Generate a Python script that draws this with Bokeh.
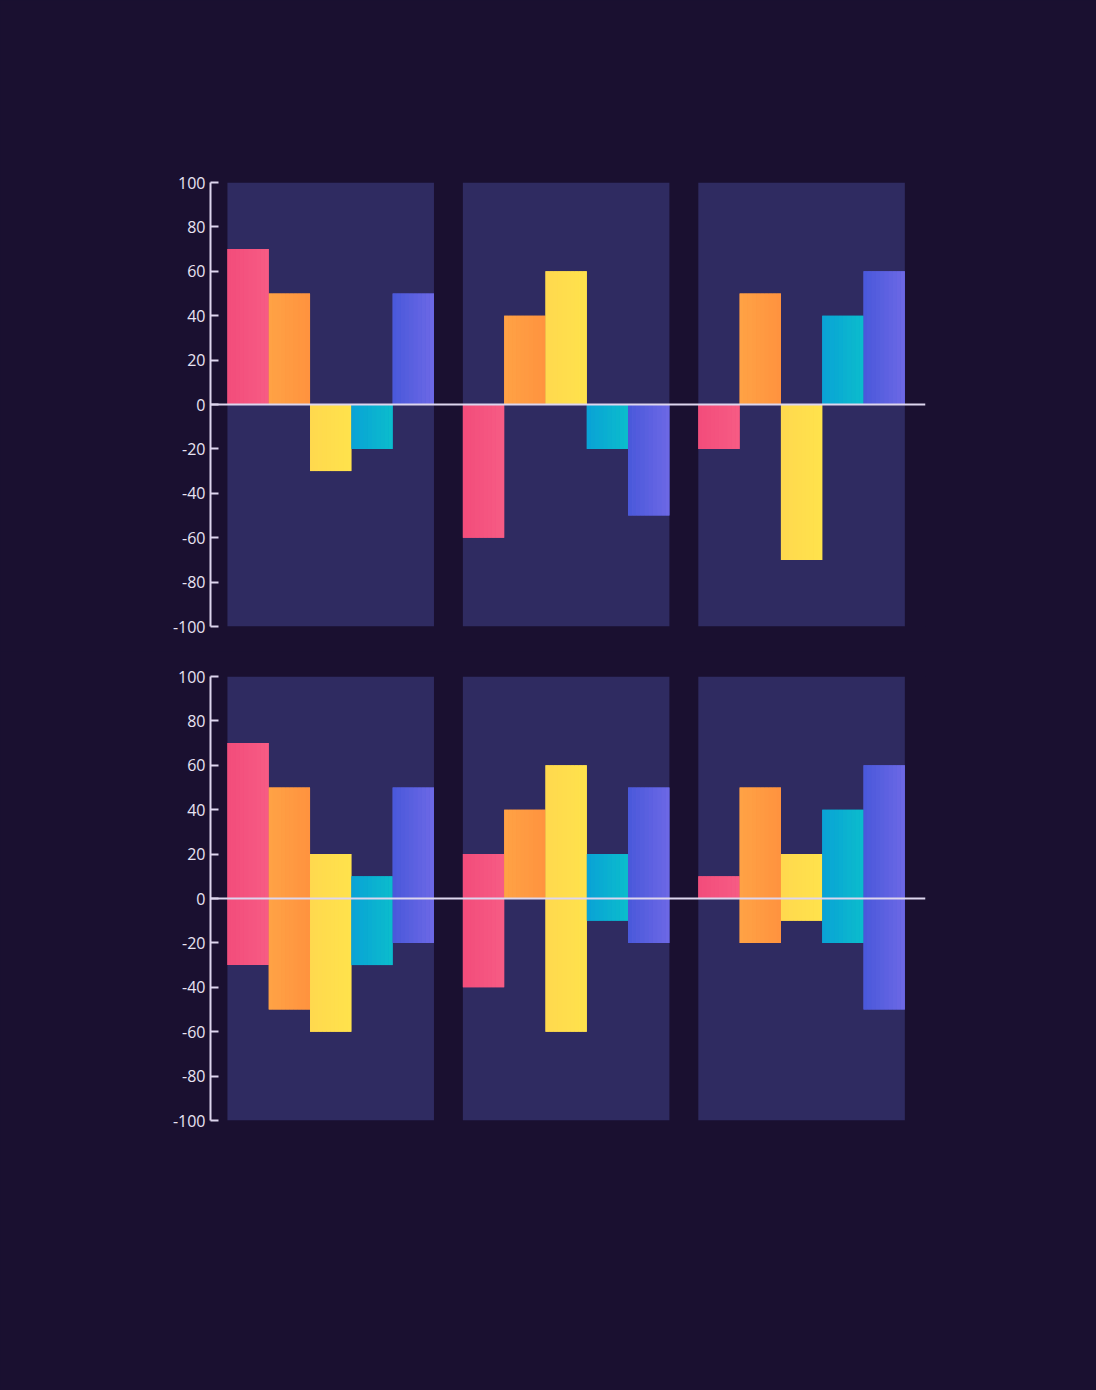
from bokeh.plotting import figure
from bokeh.models import Range1d, Span, FixedTicker, ColumnDataSource, PrintfTickFormatter
from bokeh.layouts import column
from bokeh.embed import file_html
from bokeh.resources import INLINE

# ---- data ----
series_names = ["A", "B", "C", "D", "E"]
groups = ["Group 1", "Group 2", "Group 3"]
y_ticks = [-100, -80, -60, -40, -20, 0, 20, 40, 60, 80, 100]

# top panel: simple bars from zero
top_values = [
    [70, 50, -30, -20, 50],
    [-60, 40, 60, -20, -50],
    [-20, 50, -70, 40, 60],
]
# bottom panel: floating bars (high, low)
bottom_high = [
    [70, 50, 20, 10, 50],
    [20, 40, 60, 20, 50],
    [10, 50, 20, 40, 60],
]
bottom_low = [
    [-30, -50, -60, -30, -20],
    [-40, 0, -60, -10, -20],
    [0, -20, -10, -20, -50],
]

# ---- style ----
BG = "#1a1030"
PANEL = "#2f2b61"
AXIS = "#ddd6ee"
LABEL = "#e8e3f2"
grad = [("#f24c7b", "#f75c84"), ("#ffa345", "#ff923f"), ("#ffd84e", "#ffe34c"),
        ("#0aa2d6", "#0bbdcc"), ("#4858da", "#6e69e6")]
NSTRIP = 10
GROUP_PITCH = 5.7


def hex2rgb(h):
    h = h.lstrip("#")
    return tuple(int(h[i:i + 2], 16) for i in (0, 2, 4))


def lerp(c1, c2, t):
    a, b = hex2rgb(c1), hex2rgb(c2)
    return "#%02x%02x%02x" % tuple(round(a[k] + (b[k] - a[k]) * t) for k in range(3))


def make_fig(height, border_top, border_bottom, lows, highs):
    p = figure(width=1096, height=height, output_backend="svg", toolbar_location=None,
               x_range=Range1d(-0.41, 16.9), y_range=Range1d(-100, 100),
               min_border_left=210, min_border_right=171,
               min_border_top=border_top, min_border_bottom=border_bottom,
               background_fill_color=BG, border_fill_color=BG)
    p.outline_line_color = None
    p.grid.visible = False
    p.xaxis.visible = False
    ax = p.yaxis[0]
    ax.ticker = FixedTicker(ticks=y_ticks)
    ax.formatter = PrintfTickFormatter(format="%d")
    ax.axis_line_color = AXIS
    ax.axis_line_width = 2
    ax.major_tick_line_color = AXIS
    ax.major_tick_line_width = 2
    ax.major_tick_in = 8
    ax.major_tick_out = 0
    ax.minor_tick_line_color = None
    ax.major_label_text_color = LABEL
    ax.major_label_text_font = "Open Sans"
    ax.major_label_text_font_size = "16px"
    ax.major_label_standoff = 5

    # panel backgrounds
    p.quad(left=[g * GROUP_PITCH for g in range(len(groups))],
           right=[g * GROUP_PITCH + len(series_names) for g in range(len(groups))],
           bottom=[-100] * len(groups), top=[100] * len(groups),
           fill_color=PANEL, line_color=None)

    # solid base bars, then thin strips on top to imitate a horizontal gradient
    bl, br, bb, bt, bc = [], [], [], [], []
    L, R, B, T, C = [], [], [], [], []
    for g in range(len(groups)):
        for i in range(len(series_names)):
            lo, hi = lows[g][i], highs[g][i]
            x0 = g * GROUP_PITCH + i
            bl.append(x0); br.append(x0 + 1); bb.append(lo); bt.append(hi)
            bc.append(lerp(grad[i][0], grad[i][1], 0.5))
            for s in range(NSTRIP):
                L.append(x0 + s / NSTRIP)
                R.append(x0 + (s + 1) / NSTRIP)
                B.append(lo)
                T.append(hi)
                C.append(lerp(grad[i][0], grad[i][1], (s + 0.5) / NSTRIP))
    p.quad(left=bl, right=br, bottom=bb, top=bt, fill_color=bc, line_color=None)
    src = ColumnDataSource(dict(left=L, right=R, bottom=B, top=T, color=C))
    p.quad(left="left", right="right", bottom="bottom", top="top", source=src,
           fill_color="color", line_color=None)

    p.add_layout(Span(location=0, dimension="width", line_color=AXIS, line_width=2))
    return p


top_lows = [[min(0, v) for v in row] for row in top_values]
top_highs = [[max(0, v) for v in row] for row in top_values]

p1 = make_fig(651, 182, 25, top_lows, top_highs)
p2 = make_fig(739, 25, 270, bottom_low, bottom_high)

p = column(p1, p2, spacing=0, background=BG)
open("out.html", "w").write(file_html(p, INLINE))
